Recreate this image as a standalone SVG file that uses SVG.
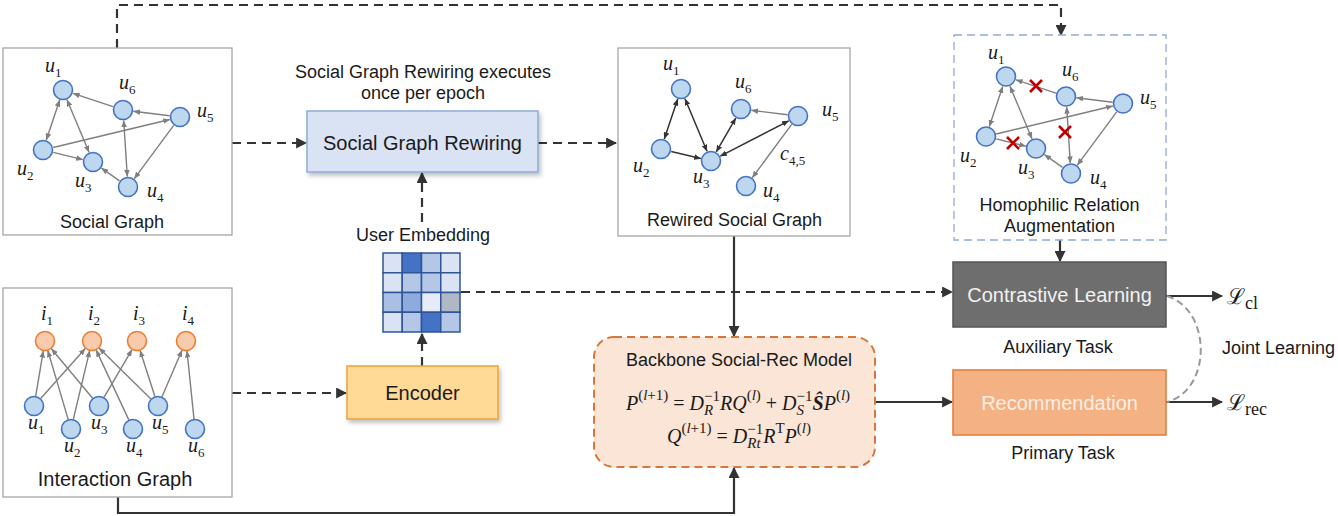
<svg xmlns="http://www.w3.org/2000/svg" width="1338" height="516" viewBox="0 0 1338 516">
<defs>
<style>
.box{fill:#fff;stroke:#a6a6a6;stroke-width:1.3}
.un{fill:#bdd7ee;stroke:#4472c4;stroke-width:1.6}
.in{fill:#f8cbad;stroke:#ed7d31;stroke-width:1.6}
.e{stroke:#7f7f7f;stroke-width:1.4;fill:none;marker-end:url(#ag)}
.e2{marker-start:url(#ag)}
.ed{stroke:#333;stroke-width:1.5;fill:none;marker-end:url(#ad)}
.ed2{marker-start:url(#ad)}
.t{font-family:"Liberation Sans",Arial,sans-serif;fill:#1a1a1a}
.m{font-family:"Liberation Serif","DejaVu Serif",serif;font-style:italic;font-size:20px;fill:#1a1a1a}
.s{font-style:normal;font-size:13px}
.c{stroke:#333;stroke-width:2.2;fill:none;marker-end:url(#ak)}
.dash{stroke-dasharray:9 6}
.x{stroke:#c00000;stroke-width:2.6;fill:none}
</style>
<marker id="ag" viewBox="0 0 10 8" refX="9.5" refY="4" markerWidth="7" markerHeight="5.6" orient="auto-start-reverse" markerUnits="userSpaceOnUse"><path d="M0,0 L10,4 L0,8 z" fill="#7f7f7f"/></marker>
<marker id="ad" viewBox="0 0 10 8" refX="9.5" refY="4" markerWidth="7" markerHeight="5.6" orient="auto-start-reverse" markerUnits="userSpaceOnUse"><path d="M0,0 L10,4 L0,8 z" fill="#333"/></marker>
<marker id="ak" viewBox="0 0 10 10" refX="9" refY="5" markerWidth="11" markerHeight="11" orient="auto" markerUnits="userSpaceOnUse"><path d="M0,0 L10,5 L0,10 z" fill="#333"/></marker>
<filter id="sh" x="-10%" y="-10%" width="130%" height="140%"><feDropShadow dx="2" dy="3" stdDeviation="2" flood-color="#000" flood-opacity="0.25"/></filter>
</defs>
<rect width="1338" height="516" fill="#fff"/>

<g id="connectors">
<path class="c dash" d="M117,48 V5 H1061 V35"/>
<path class="c dash" d="M232,143 H306"/>
<path class="c dash" d="M538,143 H616"/>
<path class="c dash" d="M422,222 V173"/>
<path class="c dash" d="M422,366 V334"/>
<path class="c dash" d="M232,393 H346"/>
<path class="c dash" d="M461,292 H952"/>
<path class="c" d="M734,236 V336"/>
<path class="c" d="M118,497 V513 H734 V468"/>
<path class="c" d="M875,402 H952"/>
<path class="c" d="M1060,240 V261"/>
<path class="c" d="M1166,296 H1222"/>
<path class="c" d="M1166,402 H1222"/>
<path d="M1167,296 C1212,310 1212,390 1167,402" fill="none" stroke="#999" stroke-width="2" stroke-dasharray="7 4"/>
</g>

<g id="social-graph">
<rect class="box" x="3" y="48" width="229" height="187"/>
<line class="e" x1="113" y1="106.7" x2="73" y2="93.3"/>
<line class="e" x1="169.6" y1="115.7" x2="133.4" y2="111.3"/>
<line class="e e2" x1="59.7" y1="100" x2="46.3" y2="140"/>
<line class="e e2" x1="67" y1="99.7" x2="89" y2="152.3"/>
<line class="e" x1="53.2" y1="147.5" x2="169.8" y2="119.5"/>
<line class="e" x1="53.2" y1="152.4" x2="82.8" y2="159.6"/>
<line class="e e2" x1="123.7" y1="120.5" x2="127.3" y2="176.5"/>
<line class="e" x1="173.7" y1="125.4" x2="134.3" y2="178.6"/>
<line class="e" x1="119.5" y1="180.9" x2="101.5" y2="168.1"/>
<circle class="un" cx="63" cy="90" r="9.5"/>
<circle class="un" cx="123" cy="110" r="9.5"/>
<circle class="un" cx="180" cy="117" r="9.5"/>
<circle class="un" cx="43" cy="150" r="9.5"/>
<circle class="un" cx="93" cy="162" r="9.5"/>
<circle class="un" cx="128" cy="187" r="9.5"/>
<text class="m" x="45" y="72">u<tspan class="s" dy="5">1</tspan></text>
<text class="m" x="119" y="89">u<tspan class="s" dy="5">6</tspan></text>
<text class="m" x="197" y="117">u<tspan class="s" dy="5">5</tspan></text>
<text class="m" x="17" y="175">u<tspan class="s" dy="5">2</tspan></text>
<text class="m" x="75" y="187">u<tspan class="s" dy="5">3</tspan></text>
<text class="m" x="147" y="197">u<tspan class="s" dy="5">4</tspan></text>
<text class="t" x="112" y="228" font-size="18" text-anchor="middle">Social Graph</text>
</g>

<g id="rewiring">
<text class="t" x="423" y="78" font-size="18" text-anchor="middle">Social Graph Rewiring executes</text>
<text class="t" x="423" y="99" font-size="18" text-anchor="middle">once per epoch</text>
<rect x="307" y="111" width="231" height="61" fill="#dae3f3" stroke="#8faadc" stroke-width="1.5" filter="url(#sh)"/>
<text class="t" x="422.5" y="150" font-size="20" text-anchor="middle">Social Graph Rewiring</text>
</g>

<g id="rewired-graph">
<rect class="box" x="618" y="48" width="232" height="188"/>
<g transform="translate(618,-1)">
<line class="ed ed2" x1="59.7" y1="100" x2="46.3" y2="140"/>
<line class="ed ed2" x1="67" y1="99.7" x2="89" y2="152.3" stroke="#555"/>
<line class="ed" x1="53.2" y1="152.4" x2="82.8" y2="159.6"/>
<line class="ed ed2" x1="98.25" y1="152.9" x2="117.75" y2="119.1"/>
<line class="ed ed2" x1="102.3" y1="157.2" x2="170.7" y2="121.8"/>
<line class="e" x1="169.6" y1="115.7" x2="133.4" y2="111.3"/>
<line class="e" x1="173.7" y1="125.4" x2="134.3" y2="178.6"/>
<circle class="un" cx="63" cy="90" r="9.5"/>
<circle class="un" cx="123" cy="110" r="9.5"/>
<circle class="un" cx="180" cy="117" r="9.5"/>
<circle class="un" cx="43" cy="150" r="9.5"/>
<circle class="un" cx="93" cy="162" r="9.5"/>
<circle class="un" cx="128" cy="187" r="9.5"/>
<text class="m" x="45" y="71">u<tspan class="s" dy="5">1</tspan></text>
<text class="m" x="117" y="89">u<tspan class="s" dy="5">6</tspan></text>
<text class="m" x="204" y="117">u<tspan class="s" dy="5">5</tspan></text>
<text class="m" x="15" y="173">u<tspan class="s" dy="5">2</tspan></text>
<text class="m" x="75" y="184">u<tspan class="s" dy="5">3</tspan></text>
<text class="m" x="145" y="198">u<tspan class="s" dy="5">4</tspan></text>
<text class="m" x="162" y="161">c<tspan class="s" dy="5">4,5</tspan></text>
</g>
<text class="t" x="734.5" y="226" font-size="18" text-anchor="middle">Rewired Social Graph</text>
</g>

<g id="homophilic">
<rect x="954" y="35" width="212" height="205" fill="#fff" stroke="#8faadc" stroke-width="1.3" stroke-dasharray="8 5"/>
<g transform="translate(943,-13.5)">
<line class="e" x1="113" y1="106.7" x2="73" y2="93.3"/>
<line class="e" x1="169.6" y1="115.7" x2="133.4" y2="111.3"/>
<line class="e e2" x1="59.7" y1="100" x2="46.3" y2="140"/>
<line class="e e2" x1="67" y1="99.7" x2="89" y2="152.3"/>
<line class="e" x1="53.2" y1="147.5" x2="169.8" y2="119.5"/>
<line class="e" x1="53.2" y1="152.4" x2="82.8" y2="159.6"/>
<line class="e e2" x1="123.7" y1="120.5" x2="127.3" y2="176.5"/>
<line class="e" x1="173.7" y1="125.4" x2="134.3" y2="178.6"/>
<line class="e" x1="119.5" y1="180.9" x2="101.5" y2="168.1"/>
<circle class="un" cx="63" cy="90" r="9.5"/>
<circle class="un" cx="123" cy="110" r="9.5"/>
<circle class="un" cx="180" cy="117" r="9.5"/>
<circle class="un" cx="43" cy="150" r="9.5"/>
<circle class="un" cx="93" cy="162" r="9.5"/>
<circle class="un" cx="128" cy="187" r="9.5"/>
<path class="x" d="M87,93.5 l12,12 M99,93.5 l-12,12"/>
<path class="x" d="M116,139.5 l12,12 M128,139.5 l-12,12"/>
<path class="x" d="M64,150.5 l12,12 M76,150.5 l-12,12"/>
<text class="m" x="45" y="72">u<tspan class="s" dy="5">1</tspan></text>
<text class="m" x="119" y="89">u<tspan class="s" dy="5">6</tspan></text>
<text class="m" x="197" y="117">u<tspan class="s" dy="5">5</tspan></text>
<text class="m" x="17" y="175">u<tspan class="s" dy="5">2</tspan></text>
<text class="m" x="75" y="187">u<tspan class="s" dy="5">3</tspan></text>
<text class="m" x="147" y="197">u<tspan class="s" dy="5">4</tspan></text>
</g>
<text class="t" x="1059.5" y="211" font-size="18" text-anchor="middle">Homophilic Relation</text>
<text class="t" x="1059.5" y="232" font-size="18" text-anchor="middle">Augmentation</text>
</g>

<g id="user-embedding">
<text class="t" x="423" y="241" font-size="18" text-anchor="middle">User Embedding</text>
<g stroke="#2f5597" stroke-width="1.5">
<rect x="383" y="253" width="19.25" height="19.75" fill="#dae3f3"/>
<rect x="402.25" y="253" width="19.25" height="19.75" fill="#4472c4"/>
<rect x="421.5" y="253" width="19.25" height="19.75" fill="#b4c7e7"/>
<rect x="440.75" y="253" width="19.25" height="19.75" fill="#dae3f3"/>
<rect x="383" y="272.75" width="19.25" height="19.75" fill="#dae3f3"/>
<rect x="402.25" y="272.75" width="19.25" height="19.75" fill="#b4c7e7"/>
<rect x="421.5" y="272.75" width="19.25" height="19.75" fill="#b4c7e7"/>
<rect x="440.75" y="272.75" width="19.25" height="19.75" fill="#dae3f3"/>
<rect x="383" y="292.5" width="19.25" height="19.75" fill="#a9bfe4"/>
<rect x="402.25" y="292.5" width="19.25" height="19.75" fill="#8faadc"/>
<rect x="421.5" y="292.5" width="19.25" height="19.75" fill="#e6ecf7"/>
<rect x="440.75" y="292.5" width="19.25" height="19.75" fill="#b0b8c6"/>
<rect x="383" y="312.25" width="19.25" height="19.75" fill="#dae3f3"/>
<rect x="402.25" y="312.25" width="19.25" height="19.75" fill="#b4c7e7"/>
<rect x="421.5" y="312.25" width="19.25" height="19.75" fill="#4472c4"/>
<rect x="440.75" y="312.25" width="19.25" height="19.75" fill="#b4c7e7"/>
</g>
</g>

<g id="interaction-graph">
<rect class="box" x="3" y="288" width="229" height="209"/>
<line class="e" x1="35.7" y1="396.1" x2="43.3" y2="350.9"/>
<line class="e" x1="40.7" y1="398.5" x2="85.3" y2="348.5"/>
<line class="e" x1="68.2" y1="419.4" x2="47.8" y2="350.6"/>
<line class="e" x1="73.3" y1="419.3" x2="89.7" y2="350.7"/>
<line class="e" x1="92.6" y1="398.3" x2="51.4" y2="348.7"/>
<line class="e" x1="104" y1="397.4" x2="132" y2="349.6"/>
<line class="e" x1="128.8" y1="419.9" x2="96.2" y2="350.1"/>
<line class="e" x1="150.9" y1="399" x2="99.1" y2="348"/>
<line class="e" x1="154.9" y1="396.5" x2="140.1" y2="350.5"/>
<line class="e" x1="162" y1="396.8" x2="182" y2="350.2"/>
<line class="e" x1="194" y1="419.1" x2="187" y2="350.9"/>
<circle class="in" cx="45" cy="341" r="9.5"/>
<circle class="in" cx="92" cy="341" r="9.5"/>
<circle class="in" cx="137" cy="341" r="9.5"/>
<circle class="in" cx="186" cy="341" r="9.5"/>
<circle class="un" cx="34" cy="406" r="9.5"/>
<circle class="un" cx="71" cy="429" r="9.5"/>
<circle class="un" cx="99" cy="406" r="9.5"/>
<circle class="un" cx="133" cy="429" r="9.5"/>
<circle class="un" cx="158" cy="406" r="9.5"/>
<circle class="un" cx="195" cy="429" r="9.5"/>
<text class="m" x="41" y="320">i<tspan class="s" dy="5">1</tspan></text>
<text class="m" x="88" y="320">i<tspan class="s" dy="5">2</tspan></text>
<text class="m" x="133" y="320">i<tspan class="s" dy="5">3</tspan></text>
<text class="m" x="182" y="320">i<tspan class="s" dy="5">4</tspan></text>
<text class="m" x="28" y="429">u<tspan class="s" dy="5">1</tspan></text>
<text class="m" x="64" y="452">u<tspan class="s" dy="5">2</tspan></text>
<text class="m" x="91" y="429">u<tspan class="s" dy="5">3</tspan></text>
<text class="m" x="126" y="452">u<tspan class="s" dy="5">4</tspan></text>
<text class="m" x="152" y="429">u<tspan class="s" dy="5">5</tspan></text>
<text class="m" x="188" y="452">u<tspan class="s" dy="5">6</tspan></text>
<text class="t" x="115" y="486" font-size="20" text-anchor="middle">Interaction Graph</text>
</g>

<g id="encoder">
<rect x="347" y="366" width="151" height="53" fill="#ffd996" stroke="#eda23a" stroke-width="1.5" filter="url(#sh)"/>
<text class="t" x="422.5" y="400" font-size="20" text-anchor="middle">Encoder</text>
</g>

<g id="backbone">
<rect x="594" y="337" width="281" height="130" rx="20" fill="#fbe5d6" stroke="#d9773a" stroke-width="2" stroke-dasharray="8 5"/>
<text class="t" x="739" y="366" font-size="18" text-anchor="middle">Backbone Social-Rec Model</text>
<text class="m" x="738" y="410" text-anchor="middle" font-size="23"><tspan>P</tspan><tspan font-size="15" dy="-10" font-style="normal">(</tspan><tspan font-size="15">l</tspan><tspan font-size="15" font-style="normal">+1)</tspan><tspan dy="10" font-style="normal"> = </tspan><tspan>D</tspan><tspan font-size="15" dy="5">R</tspan><tspan font-size="15" dx="-9.2" dy="-14" font-style="normal">−1</tspan><tspan dy="9">RQ</tspan><tspan font-size="15" dy="-10" font-style="normal">(</tspan><tspan font-size="15">l</tspan><tspan font-size="15" font-style="normal">)</tspan><tspan dy="10" font-style="normal"> + </tspan><tspan>D</tspan><tspan font-size="15" dy="5">S</tspan><tspan font-size="15" dx="-7.5" dy="-14" font-style="normal">−1</tspan><tspan dy="9" font-weight="bold">Ŝ</tspan><tspan>P</tspan><tspan font-size="15" dy="-10" font-style="normal">(</tspan><tspan font-size="15">l</tspan><tspan font-size="15" font-style="normal">)</tspan></text>
<text class="m" x="739" y="443" text-anchor="middle" font-size="23"><tspan>Q</tspan><tspan font-size="15" dy="-10" font-style="normal">(</tspan><tspan font-size="15">l</tspan><tspan font-size="15" font-style="normal">+1)</tspan><tspan dy="10" font-style="normal"> = </tspan><tspan>D</tspan><tspan font-size="15" dy="5">Rt</tspan><tspan font-size="15" dx="-13.4" dy="-14" font-style="normal">−1</tspan><tspan dy="9">R</tspan><tspan font-size="15" dy="-10" font-style="normal">T</tspan><tspan dy="10">P</tspan><tspan font-size="15" dy="-10" font-style="normal">(</tspan><tspan font-size="15">l</tspan><tspan font-size="15" font-style="normal">)</tspan></text>
</g>

<g id="contrastive">
<rect x="953" y="262" width="213" height="65" fill="#6e6e6e" stroke="#555" stroke-width="1.5"/>
<text class="t" x="1059.5" y="302" font-size="20" text-anchor="middle" style="fill:#f2f2f2">Contrastive Learning</text>
<text class="t" x="1058" y="353" font-size="18" text-anchor="middle">Auxiliary Task</text>
</g>

<g id="recommendation">
<rect x="953" y="370" width="213" height="65" fill="#f4b183" stroke="#e07b39" stroke-width="1.5"/>
<text class="t" x="1059.5" y="410" font-size="20" text-anchor="middle" style="fill:#fdeee4">Recommendation</text>
<text class="t" x="1063" y="459" font-size="18" text-anchor="middle">Primary Task</text>
</g>

<g id="loss-cl">
<text x="1227" y="304" font-family="'DejaVu Serif','Liberation Serif',serif" font-size="22" fill="#1a1a1a">ℒ<tspan font-family="'Liberation Serif',serif" font-size="18" dy="5">cl</tspan></text>
</g>
<g id="loss-rec">
<text x="1227" y="410" font-family="'DejaVu Serif','Liberation Serif',serif" font-size="22" fill="#1a1a1a">ℒ<tspan font-family="'Liberation Serif',serif" font-size="18" dy="5">rec</tspan></text>
</g>
<g id="joint-learning">
<text class="t" x="1222" y="354" font-size="18">Joint Learning</text>
</g>
</svg>
